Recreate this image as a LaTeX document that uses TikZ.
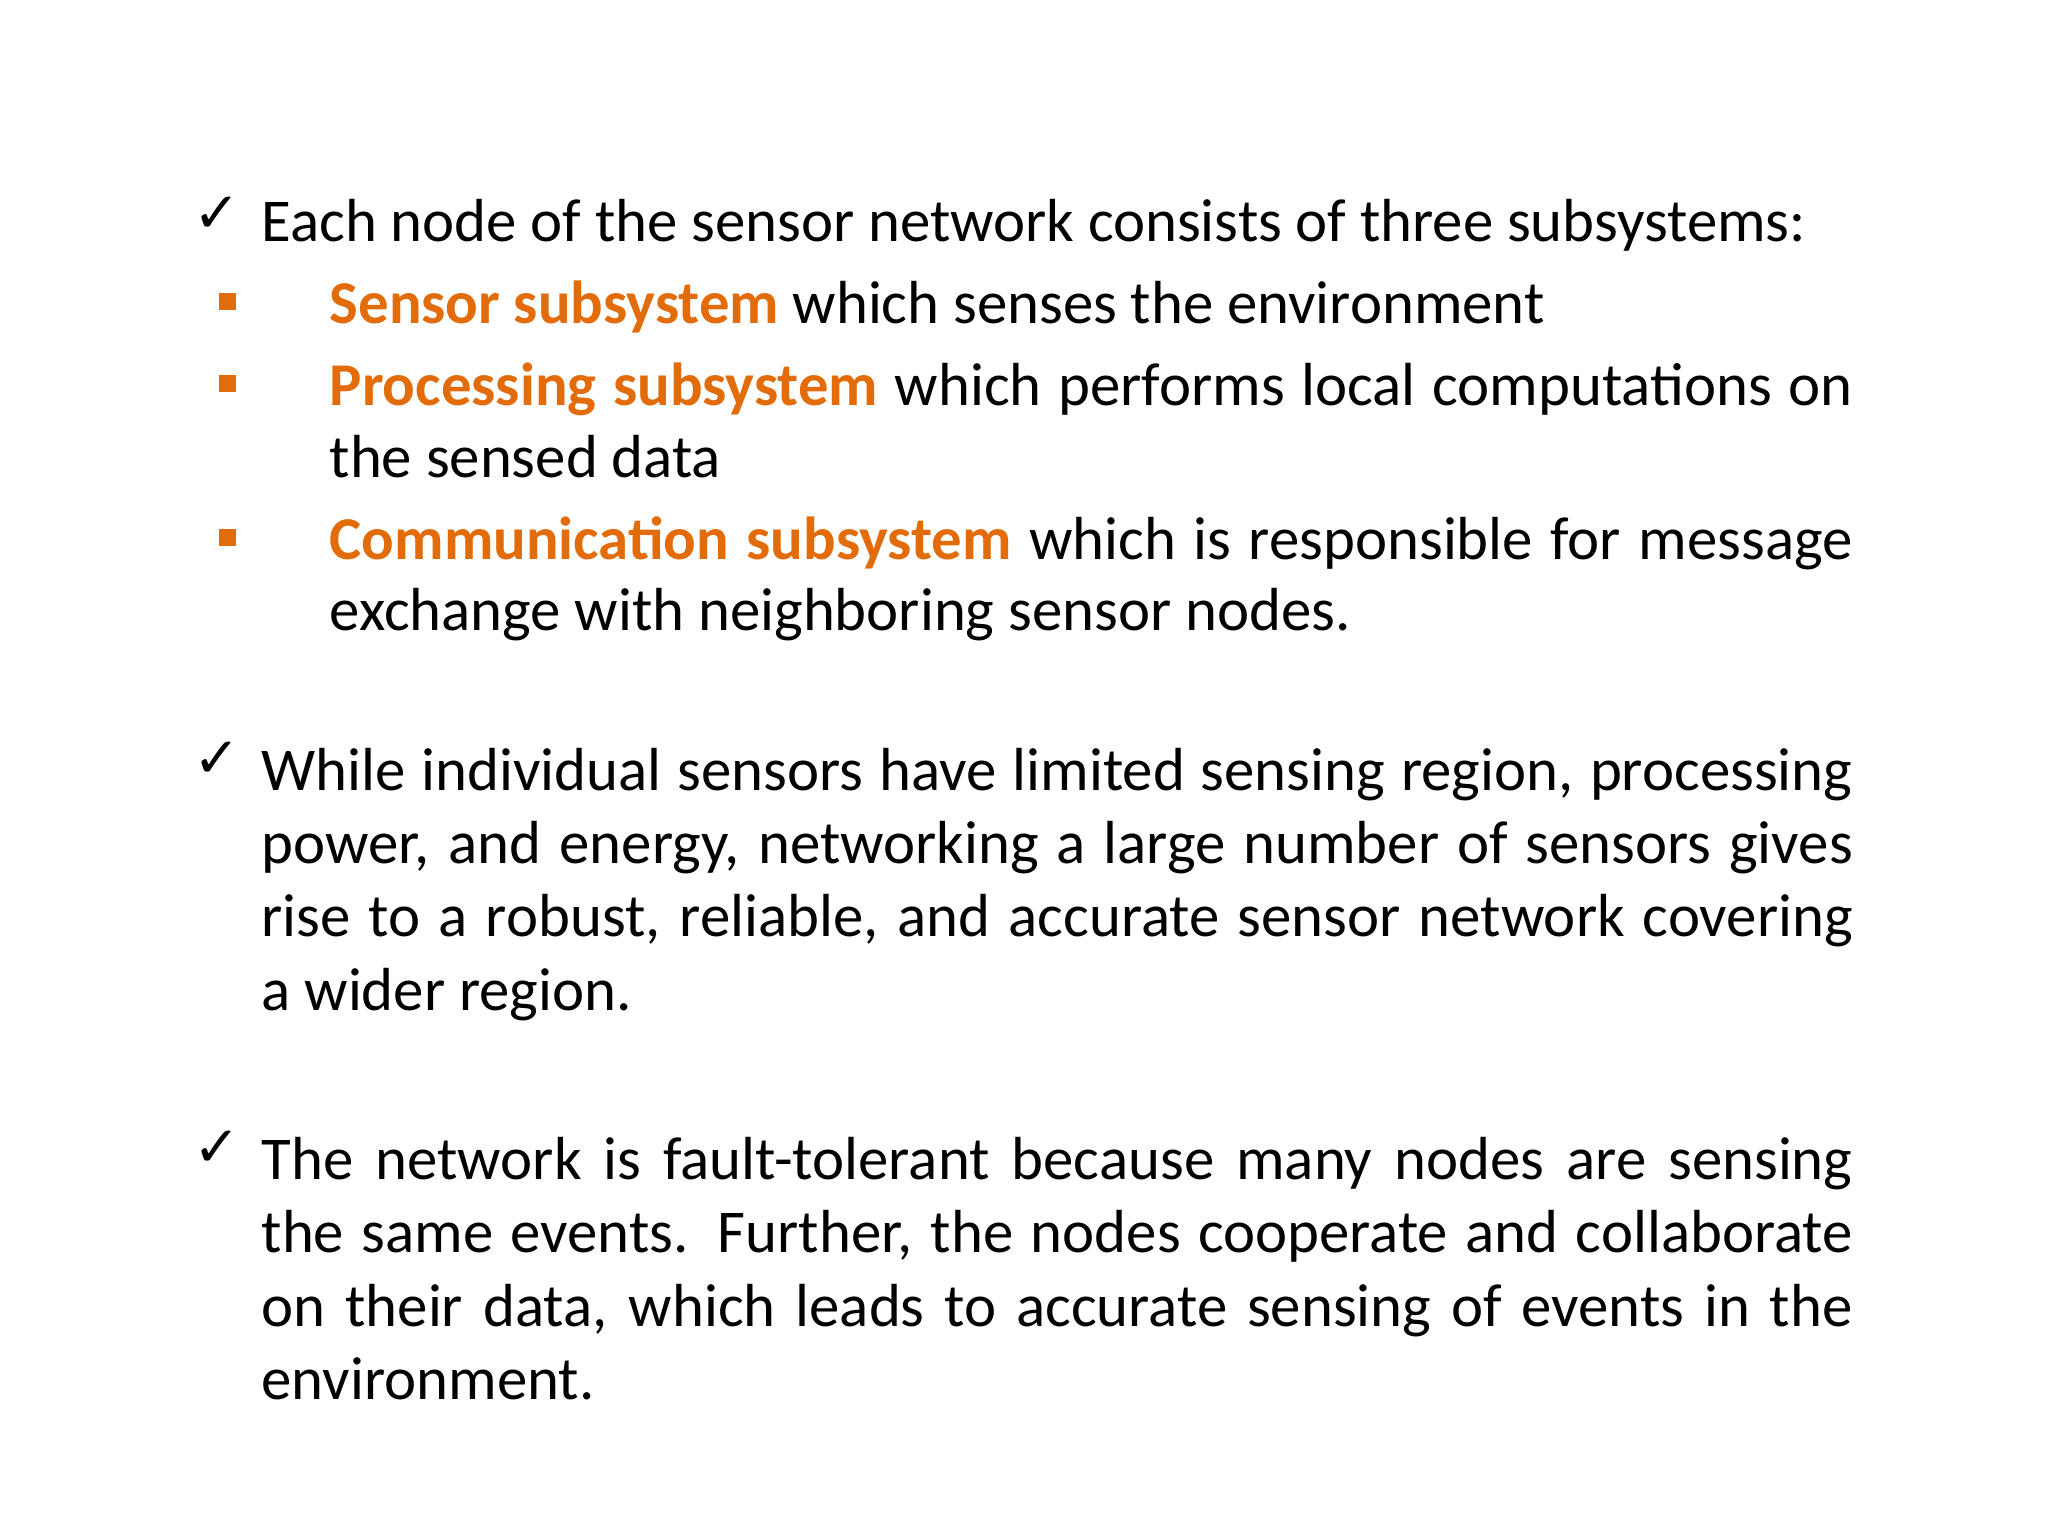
\documentclass[tikz,border=0pt]{standalone}
\usepackage{fontspec}
\setmainfont{Carlito}
\newfontfamily\dejavu{DejaVu Sans}
\definecolor{orng}{HTML}{E36C0A}
\tikzset{ln/.style={anchor=base west,inner sep=0pt,font=\fontsize{17.3}{20.8}\selectfont},
ck/.style={anchor=base west,inner sep=0pt,font=\dejavu\fontsize{16}{18}\selectfont},
sq/.style={fill=orng,draw=none}}
\newcommand{\jl}[1]{\makebox[15.91cm][s]{#1}}
\newcommand{\jb}[1]{\makebox[15.23cm][s]{#1}}
\newcommand{\hl}[1]{\textcolor{orng}{\textbf{#1}}}
\begin{document}
\begin{tikzpicture}
\useasboundingbox (0,0) rectangle (20.48,-15.36);
\node[ck] (c1) at (1.93,-2.33) {✓};
\node[ck] (c2) at (1.93,-7.77) {✓};
\node[ck] (c3) at (1.93,-11.66) {✓};
\fill[sq] (2.19,-2.93) rectangle (2.36,-3.10);
\fill[sq] (2.19,-3.75) rectangle (2.36,-3.92);
\fill[sq] (2.19,-5.29) rectangle (2.36,-5.46);
\node[ln] (l1) at (2.61,-2.42) {Each node of the sensor network consists of three subsystems:};
\node[ln] (b1) at (3.29,-3.24) {\hl{Sensor subsystem} which senses the environment};
\node[ln] (b2) at (3.29,-4.06) {\jb{\hl{Processing subsystem} which performs local computations on}};
\node[ln] (b2b) at (3.29,-4.78) {the sensed data};
\node[ln] (b3) at (3.29,-5.60) {\jb{\hl{Communication subsystem} which is responsible for message}};
\node[ln] (b3b) at (3.29,-6.31) {exchange with neighboring sensor nodes.};
\node[ln] (p1) at (2.61,-7.90) {\jl{While individual sensors have limited sensing region, processing}};
\node[ln] (p2) at (2.61,-8.63) {\jl{power, and energy, networking a large number of sensors gives}};
\node[ln] (p3) at (2.61,-9.36) {\jl{rise to a robust, reliable, and accurate sensor network covering}};
\node[ln] (p4) at (2.61,-10.10) {a wider region.};
\node[ln] (q1) at (2.61,-11.79) {\jl{The network is fault-tolerant because many nodes are sensing}};
\node[ln] (q2) at (2.61,-12.52) {\jl{the same events. Further, the nodes cooperate and collaborate}};
\node[ln] (q3) at (2.61,-13.26) {\jl{on their data, which leads to accurate sensing of events in the}};
\node[ln] (q4) at (2.61,-13.99) {environment.};
\end{tikzpicture}
\end{document}
